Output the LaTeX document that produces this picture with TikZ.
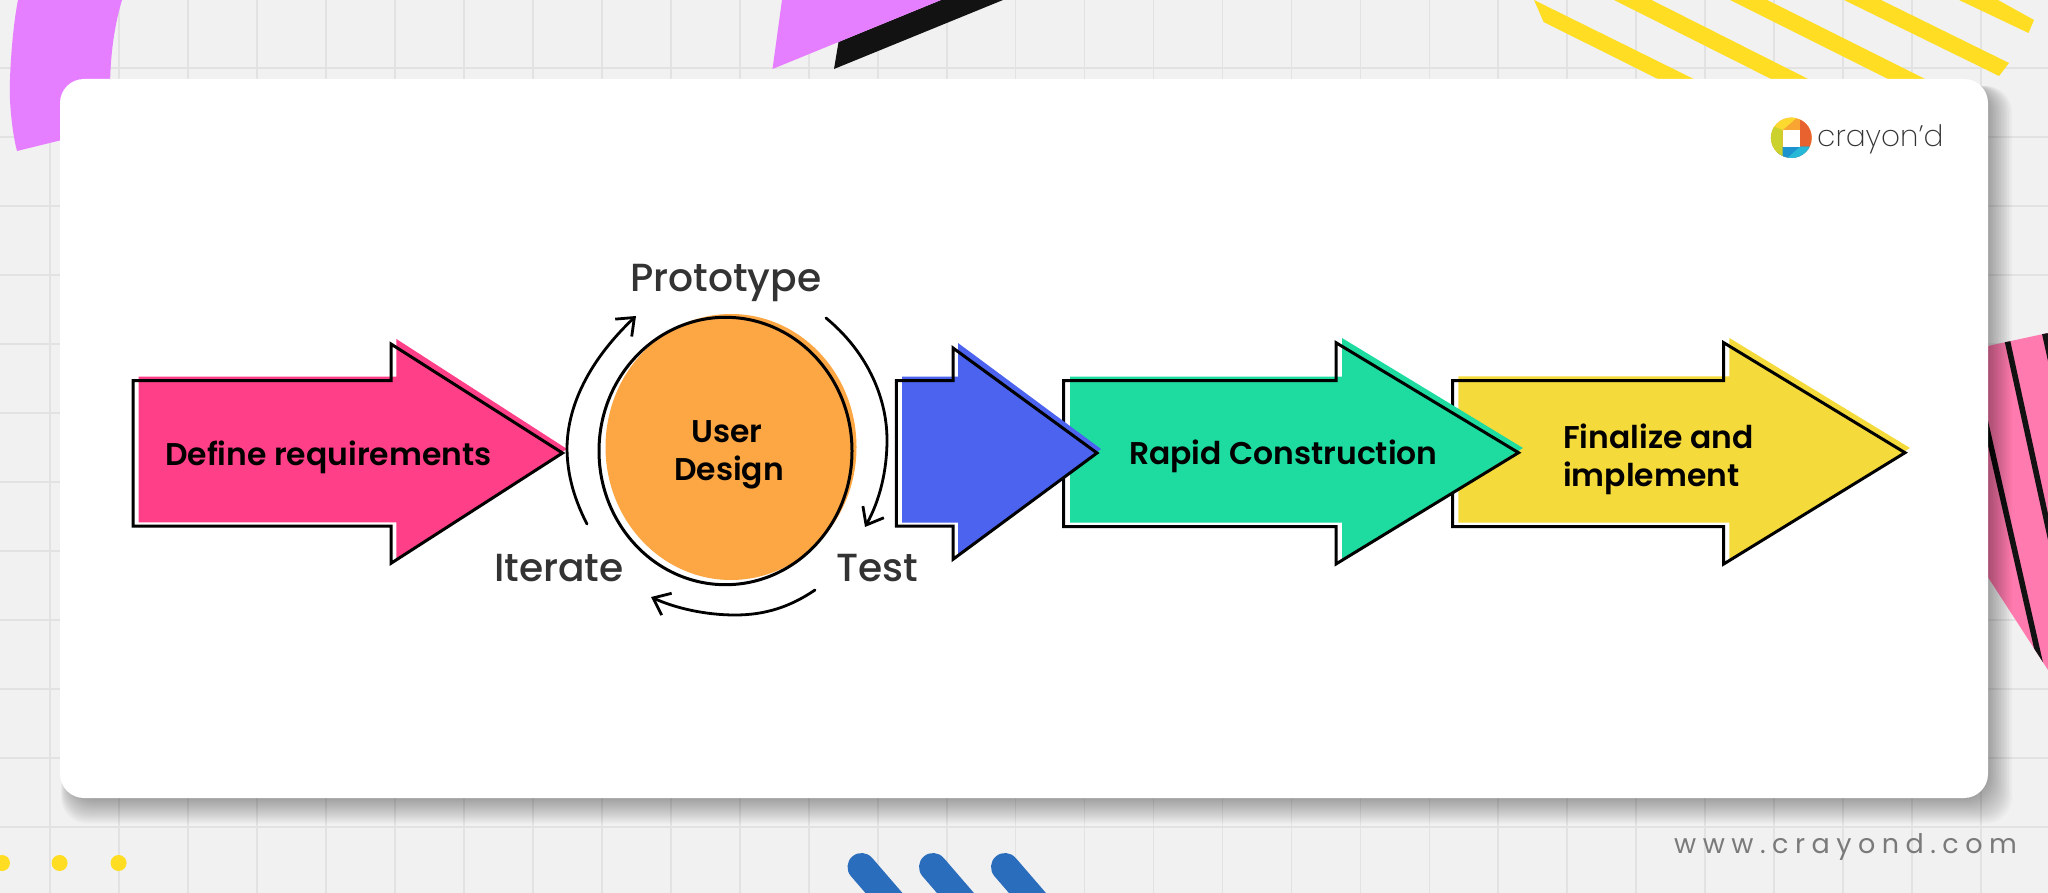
\documentclass[tikz,border=0pt]{standalone}
\usepackage{fontspec}
\setmainfont{Poppins}
\newfontfamily\medfont{Poppins Medium}
\newfontfamily\semifont{Poppins SemiBold}
\newfontfamily\lightfont{Poppins ExtraLight}
\usetikzlibrary{arrows.meta}
\definecolor{paper}{HTML}{F1F1F1}
\definecolor{gridline}{HTML}{E2E2E2}
\definecolor{violet}{HTML}{E67FFF}
\definecolor{stripeyellow}{HTML}{FFDD22}
\definecolor{stripeblue}{HTML}{2A6DBD}
\definecolor{rose}{HTML}{FF7AAE}
\definecolor{inkblack}{HTML}{121212}
\definecolor{stepPink}{HTML}{FF3F87}
\definecolor{stepBlue}{HTML}{4B63EE}
\definecolor{stepGreen}{HTML}{1EDBA0}
\definecolor{stepYellow}{HTML}{F5DA3C}
\definecolor{stepOrange}{HTML}{FCA644}
\definecolor{labelgrey}{HTML}{333333}
\definecolor{markYellow}{HTML}{FBD92F}
\definecolor{markOrange}{HTML}{F9A533}
\definecolor{markRed}{HTML}{E8622F}
\definecolor{markBlue}{HTML}{1C92CF}
\definecolor{markCyan}{HTML}{27B8D8}
\definecolor{markLime}{HTML}{CBD22E}
\tikzset{
  outline/.style={draw=black,line width=3pt,line join=miter},
  cycleline/.style={draw=black,line width=2.8pt,line cap=round,
    -{Straight Barb[length=15pt,width=24pt,line width=2.8pt]}},
  steplabel/.style={font=\fontsize{31.4}{37.6}\selectfont\semifont,text=black,align=center,inner sep=0pt},
  cyclelabel/.style={font=\fontsize{39.2}{42}\selectfont\medfont,text=labelgrey,inner sep=0pt,anchor=base},
  bar/.style={line width=28pt,stripeblue,line cap=round}
}
% Arrow silhouette: left, top, shaft end, head top, tip x, tip y, bottom, head bottom
\newcommand{\arrowpath}[8]{(#1,#2) -- (#3,#2) -- (#3,#4) -- (#5,#6) -- (#3,#8) -- (#3,#7) -- (#1,#7) -- cycle}
\begin{document}
\begin{tikzpicture}[x=1pt,y=-1pt]
\useasboundingbox (0,0) rectangle (2048,893);
\fill[paper] (0,0) rectangle (2048,893);

% grid
\foreach \n in {0,...,28}{
  \draw[gridline,line width=1.8pt] ({50+68.97*\n},0) -- ({50+68.97*\n},893);
}
\foreach \n in {1,...,12}{
  \draw[gridline,line width=1.4pt] (0,{68+69*\n}) -- (2048,{68+69*\n});
}
\draw[gridline,line width=2.6pt] (0,68) -- (2048,68);
\draw[gridline,line width=2.6pt] (0,827) -- (2048,827);

% corner decorations
\fill[violet] (18,0) .. controls (12,30) and (9,80) .. (10,100) .. controls (11,120) and (14,140) .. (17,151)
  -- (70,138) -- (110,90) .. controls (110,50) and (116,20) .. (122,0) -- cycle;
\fill[inkblack] (941,0) -- (838.5,42) -- (834,69) -- (1003,0) -- cycle;
\fill[violet] (782,0) -- (772.5,69) -- (941,0) -- cycle;

\fill[stripeyellow] (1534,0) -- (1543.6,22) -- (1680,90) -- (1716,90) -- cycle;
\fill[stripeyellow] (1614,0) -- (1651.5,0) -- (1830,90) -- (1793,90) -- cycle;
\fill[stripeyellow] (1730,0) -- (1767,0) -- (1947,90) -- (1910,90) -- cycle;
\fill[stripeyellow] (1844,0) -- (1881,0) -- (2009,63) -- (1999,76) -- cycle;
\fill[stripeyellow] (1959,0) -- (1998,0) -- (2034,20) -- (2028.5,33) -- cycle;

\begin{scope}
  \clip (1960,352) -- (2048,333) -- (2048,670) -- (1960,534) -- cycle;
  \fill[rose] (1960,320) rectangle (2048,680);
  \draw[inkblack,line width=5.6pt] (2005,330) -- (2060,582);
  \draw[inkblack,line width=5.6pt] (2044,330) -- (2060,403);
  \draw[inkblack,line width=5.6pt] (1975,376) -- (2045,684);
\end{scope}

\foreach \cx in {2,59.6,118.6}{
  \fill[stripeyellow] (\cx,863) circle[radius=8];
}
\foreach \bx in {861.5,933,1005}{
  \draw[bar] (\bx,867) -- ({\bx+38},911);
}

% card shadow and card
\foreach \g in {0,...,15}{
  \fill[black,opacity=0.022,rounded corners=26pt] ({70-\g*0.6},{86}) rectangle ({1988+\g*1.6},{798+\g*1.7});
}
\fill[white,rounded corners=24pt] (60,79) rectangle (1988,798);

% brand mark
\begin{scope}
  \clip (1791.3,137.8) ellipse[x radius=20.4,y radius=20.2];
  \fill[markOrange] (1770,115) rectangle (1815,160);
  \fill[markYellow] (1770,115) -- (1800,115) -- (1782.7,130) -- (1770,130) -- cycle;
  \fill[markRed] (1800,130) -- (1800,120) -- (1815,115) -- (1815,160) -- (1800,146.7) -- cycle;
  \fill[markBlue] (1782.7,146.7) -- (1815,146.7) -- (1815,160) -- (1770,160) -- cycle;
  \fill[markCyan] (1785,160) -- (1800,146.7) -- (1815,146.7) -- (1815,160) -- cycle;
  \fill[markLime] (1770,125) -- (1782.7,130) -- (1782.7,146.7) -- (1782.7,160) -- (1770,160) -- cycle;
  \fill[white] (1782.7,130) rectangle (1800,146.7);
\end{scope}
\node[anchor=base west,inner sep=0pt,text=labelgrey,font=\fontsize{29.5}{32}\selectfont\lightfont] (brand) at (1817,146.7) {crayon’d};

% process arrows, last one first so each tip lies over the next box
\fill[stepYellow] \arrowpath{1458.4}{376.3}{1729.4}{338}{1910}{448}{522.7}{560};
\draw[outline] \arrowpath{1452.7}{380.5}{1723.7}{342.7}{1905}{452.7}{526.5}{564};
\fill[stepGreen] \arrowpath{1070}{376.7}{1342}{338}{1523}{448}{522.7}{560};
\draw[outline] \arrowpath{1063.6}{380.5}{1336}{342.7}{1518.5}{452.7}{526.5}{564};
\fill[stepBlue] \arrowpath{902}{376.7}{958}{343}{1101}{449}{522.5}{555};
\draw[outline] \arrowpath{896.4}{380.7}{953}{348}{1097}{453}{526}{559.3};
\fill[stepPink] \arrowpath{138.6}{376.7}{396.4}{339}{567}{449}{522.3}{559};
\draw[outline] \arrowpath{133}{380.7}{391}{344}{562.5}{453}{526}{563.3};

% central cycle
\fill[stepOrange] (731,447) ellipse[x radius=125.5,y radius=133];
\draw[black,line width=3pt] (725.5,451) ellipse[x radius=126.5,y radius=133.7];

\coordinate (iterStart) at (587,524);
\coordinate (iterMid) at (567,447);
\coordinate (protoEnd) at (636,316);
\coordinate (protoStart) at (826,318);
\coordinate (testMid) at (887,440);
\coordinate (testEnd) at (865,527);
\coordinate (testStart) at (815,590);
\coordinate (loopMid) at (735,615);
\coordinate (iterEnd) at (651,597);

\draw[cycleline] (iterStart) .. controls (572,495) and (567,470) .. (iterMid)
  .. controls (568,395) and (600,350) .. (protoEnd);
\draw[cycleline] (protoStart) .. controls (865,350) and (887,395) .. (testMid)
  .. controls (887,470) and (880,500) .. (testEnd);
\draw[cycleline] (testStart) .. controls (790,607) and (765,615) .. (loopMid)
  .. controls (705,615) and (675,608) .. (iterEnd);

% labels
\node[cyclelabel] (prototype) at (726,292) {Prototype};
\node[cyclelabel] (iterate) at (559,581) {Iterate};
\node[cyclelabel] (test) at (877,581) {Test};
\node[steplabel,anchor=base] (user) at (727,442.7) {User};
\node[steplabel,anchor=base] (design) at (729,480.3) {Design};
\node[steplabel,anchor=base west] (define) at (165,465) {Define requirements};
\node[steplabel,anchor=base west] (rapid) at (1129,464) {Rapid Construction};
\node[steplabel,anchor=base west] (finalize) at (1563,448.7) {Finalize and};
\node[steplabel,anchor=base west] (implement) at (1563,486.5) {implement};

% web address
\node[anchor=base west,inner sep=0pt,text=black!52,font=\fontsize{27}{30}\selectfont\addfontfeatures{LetterSpace=24}] (web) at (1674,853) {www.crayond.com};
\end{tikzpicture}
\end{document}
